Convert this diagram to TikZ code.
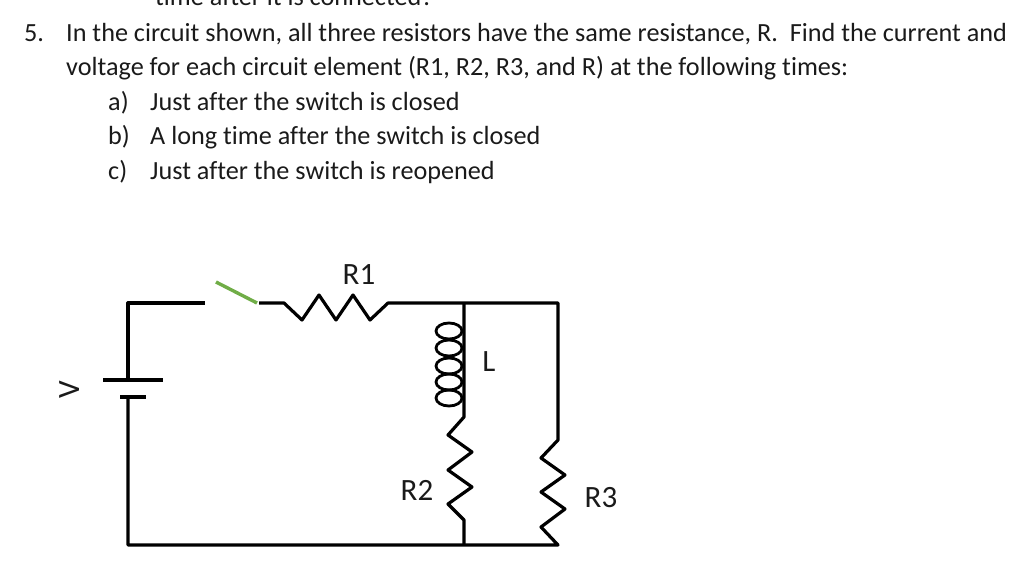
\documentclass[tikz,border=0pt]{standalone}
\usepackage{fontspec}
\setmainfont[Ligatures=NoCommon]{Carlito}
\definecolor{ink}{HTML}{1A1A1A}
\definecolor{swgreen}{HTML}{70AD47}
\tikzset{
  wire/.style={draw=black,line width=3.2pt,line join=round,line cap=butt},
  swarm/.style={draw=swgreen,line width=3.4pt},
  txt/.style={anchor=base west,inner sep=0pt,text=ink,font=\fontsize{26.2pt}{30pt}\selectfont},
  lbl/.style={inner sep=0pt,text=ink,font=\fontsize{31pt}{34pt}\selectfont}
}
\begin{document}
\begin{tikzpicture}[x=1pt,y=-1pt]
\useasboundingbox (0,0) rectangle (1024,585);
\clip (0,0) rectangle (1024,585);
\node[txt] (t0) at (155,6) {time after it is connected?};
\node[txt] (t1) at (24,41.7) {5.};
\node[txt] (t2) at (66,41.7) {In the circuit shown, all three resistors have the same resistance, R.\ \ Find the current and};
\node[txt] (t3) at (66,75.7) {voltage for each circuit element (R1, R2, R3, and R) at the following times:};
\node[txt] (t4) at (108,110.7) {a)};
\node[txt] (t5) at (150,110.7) {Just after the switch is closed};
\node[txt] (t6) at (108,144.7) {b)};
\node[txt] (t7) at (150,144.7) {A long time after the switch is closed};
\node[txt] (t8) at (108,179.7) {c)};
\node[txt] (t9) at (150,179.7) {Just after the switch is reopened};
\node[lbl] (r1) at (359,275) {R1};
\node[lbl] (lL) at (489,362) {L};
\node[lbl] (r2) at (417,490) {R2};
\node[lbl] (r3) at (601,498) {R3};
\node[lbl,rotate=90] (vv) at (70,390) {V};
\coordinate (corner) at (128,303);
\coordinate (swA) at (205,303);
\coordinate (swB) at (259,303);
\coordinate (swT) at (216,282);
\coordinate (swE) at (257,303);
\coordinate (r1a) at (284,303);
\coordinate (r1b) at (388,303);
\coordinate (jt) at (464,303);
\coordinate (tr) at (558,303);
\coordinate (r2a) at (464,417);
\coordinate (r2b) at (464,520);
\coordinate (jb) at (464,545);
\coordinate (r3a) at (558,440);
\coordinate (br) at (558,545);
\coordinate (bl) at (128,545);
\coordinate (batP) at (128,380);
\coordinate (batN) at (128,397);
\coordinate (pL1) at (103,380);
\coordinate (pL2) at (163,380);
\coordinate (pS1) at (120,397);
\coordinate (pS2) at (146,397);
% wires
\draw[wire] (batP) -- (corner) -- (swA);
\draw[swarm] (swT) -- (swE);
\draw[wire] (swB) -- (r1a) -- (302,320) -- (319,295) -- (336,320) -- (353,295) -- (370,320) -- (r1b) -- (jt) -- (tr) -- (r3a)
  -- (541,458) -- (565,475) -- (541,492) -- (565,509) -- (541,527) -- (br) -- (jb) -- (bl) -- (batN);
\draw[wire] (jt) -- (r2a) -- (448,435) -- (472,452) -- (448,470) -- (472,487) -- (448,504) -- (r2b) -- (jb);
\draw[wire] (pL1) -- (pL2);
\draw[wire] (pS1) -- (pS2);
% inductor
\foreach \n/\yy in {a/331,b/348,c/366,d/382,e/398}
  \draw[line width=2.8pt] (449,\yy) ellipse [x radius=13, y radius=8];
\end{tikzpicture}
\end{document}
